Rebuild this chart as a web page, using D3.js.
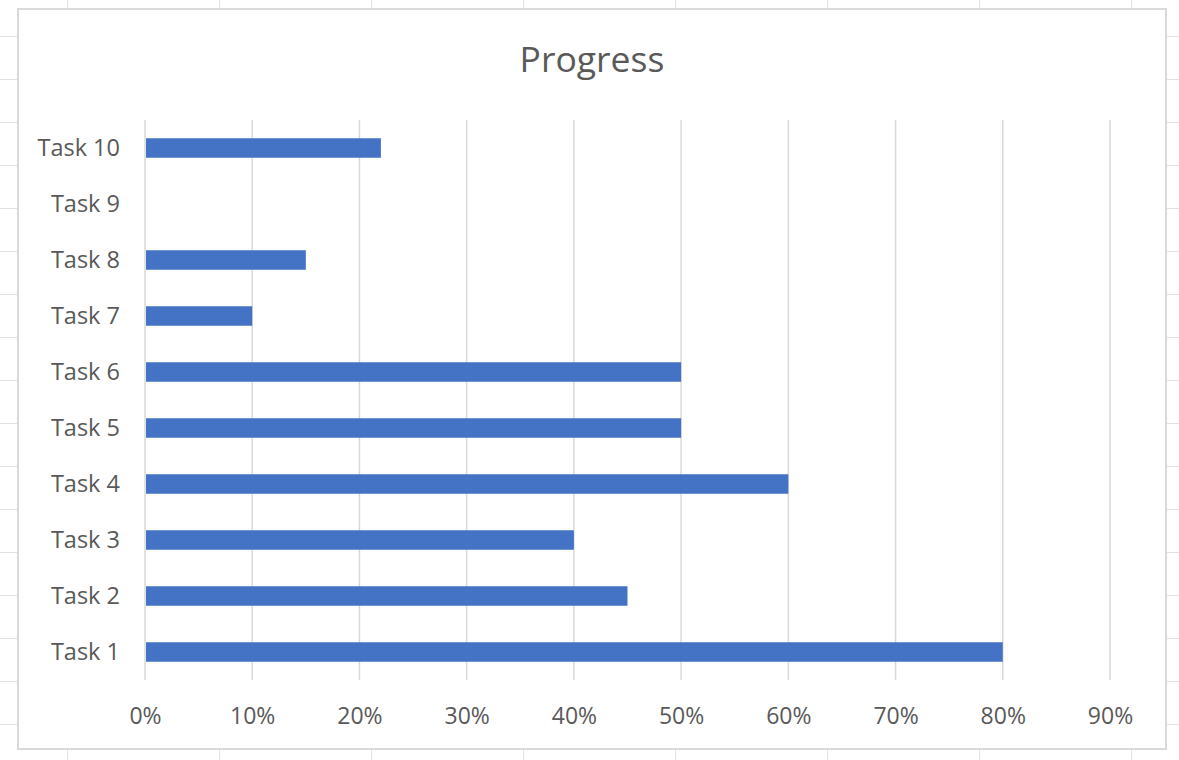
<!DOCTYPE html>
<html><head><meta charset="utf-8">
<script src="https://cdn.jsdelivr.net/npm/d3@7"></script>
<style>body{margin:0;background:#fff;} svg{display:block;} svg text{font-family:"Open Sans","Noto Sans",sans-serif;}</style>
</head><body>
<script>
const tasks = ["Task 1","Task 2","Task 3","Task 4","Task 5","Task 6","Task 7","Task 8","Task 9","Task 10"];
const progress = [0.80,0.45,0.40,0.60,0.50,0.50,0.10,0.15,0,0.22];
const xTicks = [0,0.1,0.2,0.3,0.4,0.5,0.6,0.7,0.8,0.9];
const title = "Progress";

const W=1179,H=760;
const svg=d3.select("body").append("svg").attr("width",W).attr("height",H);

// spreadsheet background grid
const colLines=d3.range(67,W,152), rowLines=d3.range(36,H,43);
svg.append("g").selectAll("line.c").data(colLines).join("line")
  .attr("x1",d=>d+0.5).attr("x2",d=>d+0.5).attr("y1",0).attr("y2",H).attr("stroke","#e1e1e1");
svg.append("g").selectAll("line.r").data(rowLines).join("line")
  .attr("x1",0).attr("x2",W).attr("y1",d=>d+0.5).attr("y2",d=>d+0.5).attr("stroke","#e1e1e1");

// chart area
svg.append("rect").attr("x",18).attr("y",9).attr("width",1148).attr("height",740)
  .attr("fill","#fff").attr("stroke","#d9d9d9").attr("stroke-width",2);

const x=d3.scaleLinear().domain([0,0.9]).range([145,1110]);
const y=d3.scaleBand().domain(tasks).range([680,120]).paddingInner(0.652).paddingOuter(0.326);

svg.append("g").selectAll("line").data(xTicks).join("line")
  .attr("x1",d=>x(d)).attr("x2",d=>x(d)).attr("y1",120).attr("y2",680)
  .attr("stroke","#d9d9d9").attr("stroke-width",1.5);

svg.append("g").selectAll("rect").data(tasks).join("rect")
  .attr("x",x(0)+1).attr("y",d=>y(d))
  .attr("width",(d,i)=>Math.max(0,x(progress[i])-x(0)-1)).attr("height",y.bandwidth())
  .attr("fill",(d,i)=>progress[i]>0?"#4472c4":"none");

const xAxis=d3.axisBottom(x).tickValues(xTicks).tickFormat(d3.format(".0%")).tickSize(0).tickPadding(0);
const gx=svg.append("g").attr("transform","translate(0,716)").call(xAxis)
  .attr("font-family",null).attr("font-size",null);
gx.select(".domain").remove();
gx.selectAll("text").attr("font-size",23).attr("fill","#595959").attr("dy","0.35em");

const yAxis=d3.axisLeft(y).tickSize(0).tickPadding(0);
const gy=svg.append("g").attr("transform","translate(120,0)").call(yAxis)
  .attr("font-family",null).attr("font-size",null);
gy.select(".domain").remove();
gy.selectAll("text").attr("font-size",23.5).attr("fill","#595959");

svg.append("text").attr("x",592).attr("y",60).attr("dy","0.35em").attr("text-anchor","middle")
  .attr("font-size",35.5).attr("fill","#595959").text(title);
</script>
</body></html>
